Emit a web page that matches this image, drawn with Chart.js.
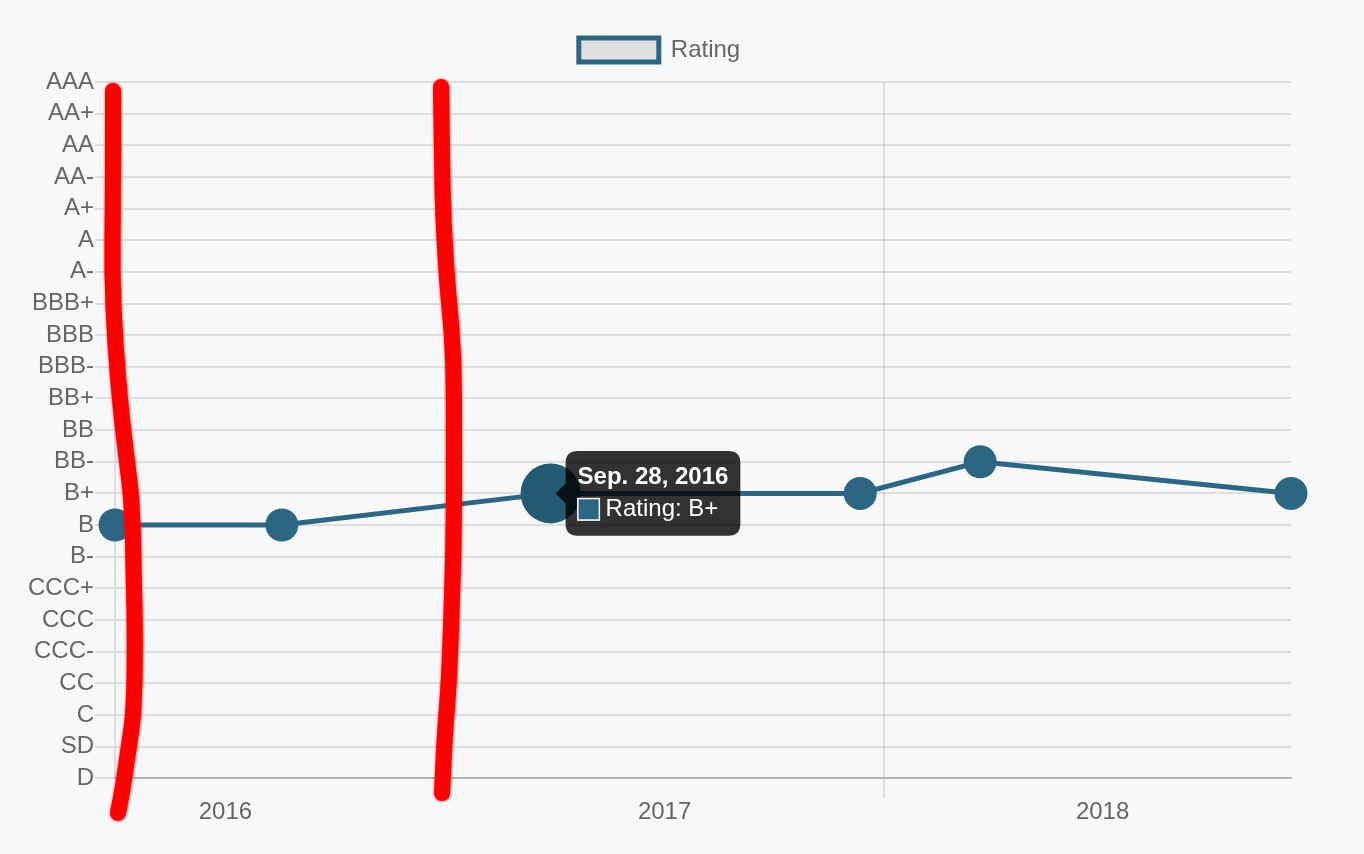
<!DOCTYPE html>
<html>
<head>
<meta charset="utf-8">
<title>Rating</title>
<script src="https://cdn.jsdelivr.net/npm/chart.js@4.4.1/dist/chart.umd.min.js"></script>
<style>
  html, body { margin: 0; padding: 0; background: #f7f8fa; }
  #wrap { width: 1364px; height: 854px; }
</style>
</head>
<body>
<div id="wrap"><canvas id="ratingChart"></canvas></div>
<script>
// rating scale, top to bottom
const ratingScale = ['AAA', 'AA+', 'AA', 'AA-', 'A+', 'A', 'A-', 'BBB+', 'BBB', 'BBB-',
    'BB+', 'BB', 'BB-', 'B+', 'B', 'B-', 'CCC+', 'CCC', 'CCC-', 'CC', 'C', 'SD', 'D'];

const ratingDates = ['2015-10-01', '2016-02-17', '2016-09-28', '2017-06-13', '2017-09-21', '2018-06-07'];
const ratingValues = ['B', 'B', 'B+', 'B+', 'BB-', 'B+'];
const yearTicks = [2016, 2017, 2018];
const monthNames = ['Jan.', 'Feb.', 'Mar.', 'Apr.', 'May', 'Jun.', 'Jul.', 'Aug.', 'Sep.', 'Oct.', 'Nov.', 'Dec.'];

const teal = '#2c6682';
const fontFamily = '"Liberation Sans", Arial, Helvetica, sans-serif';

Chart.defaults.font.family = fontFamily;
Chart.defaults.font.size = 24;
Chart.defaults.color = '#666';

function formatDate(ms) {
    const d = new Date(ms);
    return monthNames[d.getUTCMonth()] + ' ' + d.getUTCDate() + ', ' + d.getUTCFullYear();
}

// the red pen strokes drawn over the screenshot
// [dx from anchor, dy from chart top]
const penStrokes = [
    {anchor: 'left', path: [[-2, 9], [-2, 120], [-3, 190], [0, 260], [6, 330], [12, 380], [17, 420], [19, 500], [20, 560], [19, 630], [13, 670], [8, 705], [3, 731]]},
    {anchor: 'grid', path: [[-4, 5], [-3, 80], [-2, 130], [2, 200], [7, 250], [9, 300], [9, 380], [9, 440], [7, 520], [4, 600], [0, 650], [-2, 690], [-3, 711]]}
];

const penPlugin = {
    id: 'pen',
    afterDraw(chart) {
        const ctx = chart.ctx;
        const area = chart.chartArea;
        const xs = chart.scales.x;
        const gridX = (xs.getPixelForTick(0) + xs.getPixelForTick(1)) / 2;
        ctx.save();
        ctx.strokeStyle = '#ff0000';
        ctx.lineWidth = 16;
        ctx.lineCap = 'round';
        ctx.lineJoin = 'round';
        ctx.shadowColor = 'rgba(255,0,0,0.8)';
        ctx.shadowBlur = 3;
        penStrokes.forEach(s => {
            const ax = s.anchor === 'left' ? area.left : gridX;
            const pts = s.path.map(p => [ax + p[0], area.top + p[1]]);
            ctx.beginPath();
            ctx.moveTo(pts[0][0], pts[0][1]);
            // smooth through midpoints
            for (let i = 1; i < pts.length - 1; i++) {
                const mx = (pts[i][0] + pts[i + 1][0]) / 2;
                const my = (pts[i][1] + pts[i + 1][1]) / 2;
                ctx.quadraticCurveTo(pts[i][0], pts[i][1], mx, my);
            }
            const last = pts[pts.length - 1];
            ctx.lineTo(last[0], last[1]);
            ctx.stroke();
        });
        ctx.restore();
    }
};

// extra room under the legend
const legendGap = {
    id: 'legendGap',
    afterInit(chart) {
        const fit = chart.legend.fit;
        chart.legend.fit = function () {
            fit.bind(chart.legend)();
            this.height += 10;
        };
    }
};

document.addEventListener('DOMContentLoaded', function () {
    const ctx = document.getElementById('ratingChart');

    const points = ratingDates.map((d, i) => ({x: Date.parse(d), y: ratingValues[i]}));

    const chart = new Chart(ctx, {
        type: 'line',
        data: {
            datasets: [{
                label: 'Rating',
                data: points,
                borderColor: teal,
                backgroundColor: '#dfe0e2',
                borderWidth: 5,
                fill: false,
                tension: 0,
                clip: false,
                pointRadius: 16.5,
                pointBackgroundColor: teal,
                pointBorderColor: teal,
                pointBorderWidth: 0,
                pointHoverRadius: 30,
                pointHoverBackgroundColor: '#245a72',
                pointHoverBorderColor: '#245a72',
                pointHoverBorderWidth: 0
            }]
        },
        options: {
            responsive: true,
            maintainAspectRatio: false,
            animation: false,
            layout: {padding: {top: 28, left: 28, right: 73, bottom: 27}},
            interaction: {mode: 'nearest', intersect: true},
            scales: {
                x: {
                    type: 'linear',
                    min: Date.parse(ratingDates[0]),
                    max: Date.parse(ratingDates[ratingDates.length - 1]),
                    afterBuildTicks: scale => {
                        scale.ticks = yearTicks.map(y => ({value: Date.UTC(y, 0, 1)}));
                    },
                    ticks: {
                        callback: v => new Date(v).getUTCFullYear(),
                        autoSkip: false,
                        maxRotation: 0,
                        padding: 0,
                        color: '#666'
                    },
                    grid: {offset: true, color: 'rgba(0,0,0,0.1)', lineWidth: 2, tickLength: 20},
                    border: {color: 'rgba(0,0,0,0.2)', width: 2}
                },
                y: {
                    type: 'category',
                    labels: ratingScale,
                    offset: false,
                    afterFit: scale => { scale.width = 87; },
                    ticks: {autoSkip: false, padding: 1, color: '#666'},
                    grid: {offset: false, color: 'rgba(0,0,0,0.1)', lineWidth: 2, tickLength: 20},
                    border: {color: 'rgba(0,0,0,0.1)', width: 2}
                }
            },
            plugins: {
                legend: {
                    labels: {boxWidth: 80, boxHeight: 24, padding: 10, color: '#666'}
                },
                tooltip: {
                    backgroundColor: 'rgba(0,0,0,0.8)',
                    titleFont: {size: 24, weight: 'bold'},
                    bodyFont: {size: 24},
                    padding: 12,
                    cornerRadius: 12,
                    caretSize: 10,
                    caretPadding: 5,
                    titleMarginBottom: 3,
                    boxWidth: 22,
                    boxHeight: 22,
                    boxPadding: 4,
                    callbacks: {
                        title: items => formatDate(items[0].parsed.x),
                        labelColor: () => ({borderColor: '#ffffff', backgroundColor: teal})
                    }
                }
            }
        },
        plugins: [legendGap, penPlugin]
    });

    // show the tooltip on the Sep. 28, 2016 point
    const idx = ratingDates.indexOf('2016-09-28');
    const active = [{datasetIndex: 0, index: idx}];
    const el = chart.getDatasetMeta(0).data[idx];
    chart.setActiveElements(active);
    chart.tooltip.setActiveElements(active, {x: el.x, y: el.y});
    chart.update();
});
</script>
</body>
</html>
